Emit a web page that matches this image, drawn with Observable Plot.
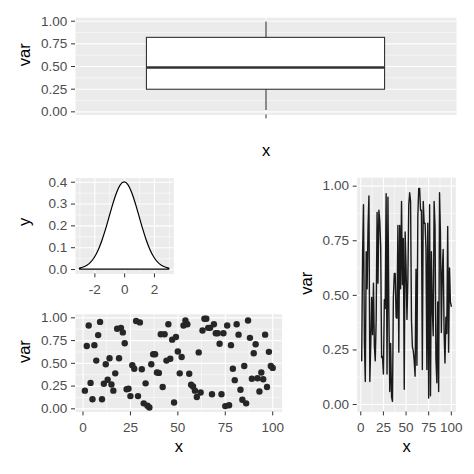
<!DOCTYPE html>
<html><head><meta charset="utf-8">
<script src="https://cdn.jsdelivr.net/npm/d3@7"></script>
<script src="https://cdn.jsdelivr.net/npm/@observablehq/plot@0.6"></script>
<style>
body{margin:0;background:#fff;}
#root{position:relative;width:474px;height:474px;background:#fff;overflow:hidden;}
#root svg{position:absolute;}
</style></head><body><div id="root"></div>
<script>
// ---------- data ----------
const xIndex = [1,2,3,4,5,6,7,8,9,10,11,12,13,14,15,16,17,18,19,20,21,22,23,24,25,26,27,28,29,30,31,32,33,34,35,36,37,38,39,40,41,42,43,44,45,46,47,48,49,50,51,52,53,54,55,56,57,58,59,60,61,62,63,64,65,66,67,68,69,70,71,72,73,74,75,76,77,78,79,80,81,82,83,84,85,86,87,88,89,90,91,92,93,94,95,96,97,98,99,100];
const varValues = [0.20,0.69,0.915,0.285,0.105,0.70,0.53,0.81,0.955,0.105,
  0.275,0.49,0.32,0.556,0.267,0.20,0.39,0.88,0.556,0.89,
  0.84,0.72,0.215,0.22,0.14,0.48,0.44,0.965,0.14,0.95,
  0.435,0.06,0.28,0.035,0.015,0.49,0.60,0.60,0.40,0.395,
  0.82,0.24,0.82,0.53,0.93,0.55,0.76,0.07,0.79,0.63,
  0.39,0.57,0.915,0.97,0.93,0.385,0.265,0.245,0.20,0.13,
  0.62,0.18,0.86,0.99,0.99,0.89,0.89,0.16,0.93,0.83,
  0.83,0.715,0.16,0.83,0.03,0.915,0.04,0.70,0.44,0.315,
  0.93,0.815,0.21,0.10,0.47,0.06,0.97,0.78,0.33,0.61,
  0.71,0.336,0.19,0.40,0.325,0.815,0.24,0.626,0.47,0.45];
const densX = [-3,-2.75,-2.5,-2.25,-2,-1.75,-1.5,-1.25,-1,-0.75,-0.5,-0.25,0,0.25,0.5,0.75,1,1.25,1.5,1.75,2,2.25,2.5,2.75,3];
const densY = [0.0044,0.0091,0.0175,0.0317,0.054,0.0863,0.1295,0.1826,0.242,0.3011,0.3521,0.3867,0.3989,0.3867,0.3521,0.3011,0.242,0.1826,0.1295,0.0863,0.054,0.0317,0.0175,0.0091,0.0044];
const varTicks = [0, 0.25, 0.5, 0.75, 1];
const varMinor = [0.125, 0.375, 0.625, 0.875];
const xTicks = [0, 25, 50, 75, 100];
const xMinor = [12.5, 37.5, 62.5, 87.5];
const densXTicks = [-2, 0, 2];
const densXMinor = [-3, -1, 1, 3];
const densYTicks = [0, 0.1, 0.2, 0.3, 0.4];
const densYMinor = [0.05, 0.15, 0.25, 0.35];
const boxCategory = [1];

// ---------- style ----------
const FONT = '"Liberation Sans", Arial, Helvetica, sans-serif';
const AXIS_TEXT = "#4D4D4D", TICK = "#333333", PANEL = "#EBEBEB";
const AX_FS = 13.5, TITLE_FS = 16.5;
const root = document.getElementById("root");

const rows = xIndex.map((x, i) => ({x, v: varValues[i]}));
const dens = densX.map((x, i) => ({x, y: densY[i]}));
const expand = (a, b, f = 0.05) => [a - (b - a) * f, b + (b - a) * f];
const yDom = expand(d3.min(varValues), d3.max(varValues));
const xDom = expand(d3.min(xIndex), d3.max(xIndex));

function place(svg, left, top) { svg.style.left = left + "px"; svg.style.top = top + "px"; root.appendChild(svg); }
const baseStyle = {fontFamily: FONT, background: "transparent", overflow: "visible"};
const grid = (minorX, majorX, minorY, majorY) => [
  Plot.frame({fill: PANEL}),
  minorY ? Plot.ruleY(minorY, {stroke: "white", strokeWidth: 0.55}) : null,
  minorX ? Plot.ruleX(minorX, {stroke: "white", strokeWidth: 0.55}) : null,
  Plot.ruleY(majorY, {stroke: "white", strokeWidth: 1.1}),
  Plot.ruleX(majorX, {stroke: "white", strokeWidth: 1.1})
];
const yAxis = (ticks, fmt) => Plot.axisY(ticks, {anchor: "left", tickSize: 4, tickPadding: 4.3, stroke: TICK, fill: AXIS_TEXT, fontSize: AX_FS, tickFormat: fmt, label: null});
const xAxis = (ticks, fmt) => Plot.axisX(ticks, {anchor: "bottom", tickSize: 4, tickPadding: 6.3, stroke: TICK, fill: AXIS_TEXT, fontSize: AX_FS, tickFormat: fmt, label: null});
const yTitle = (t, dx) => Plot.text([t], {text: d => d, frameAnchor: "left", lineAnchor: "middle", rotate: -90, dx, fontSize: TITLE_FS, fill: "black"});
const xTitle = (t, dy) => Plot.text([t], {text: d => d, frameAnchor: "bottom", lineAnchor: "middle", dy, fontSize: TITLE_FS, fill: "black"});
const f2 = d3.format(".2f"), f1 = d3.format(".1f");

// ---------- box plot ----------
const sorted = varValues.slice().sort(d3.ascending);
const q1 = d3.quantileSorted(sorted, 0.25), med = d3.quantileSorted(sorted, 0.5), q3 = d3.quantileSorted(sorted, 0.75);
const iqr = q3 - q1;
const lowW = d3.min(sorted.filter(v => v >= q1 - 1.5 * iqr));
const highW = d3.max(sorted.filter(v => v <= q3 + 1.5 * iqr));
const boxStats = [{cat: 1, q1, med, q3, lowW, highW}];
const halfW = 0.375;

place(Plot.plot({
  width: 474, height: 165,
  marginLeft: 75, marginRight: 18, marginTop: 17.2, marginBottom: 50.6,
  style: baseStyle,
  x: {domain: [0.4, 1.6]},
  y: {domain: yDom},
  marks: [
    ...grid(null, boxCategory, varMinor, varTicks),
    Plot.ruleX(boxStats, {x: "cat", y1: "lowW", y2: "highW", stroke: TICK, strokeWidth: 1.1}),
    Plot.rect(boxStats, {x1: d => d.cat - halfW, x2: d => d.cat + halfW, y1: "q1", y2: "q3", fill: "white", stroke: TICK, strokeWidth: 1.1}),
    Plot.ruleY(boxStats, {y: "med", x1: d => d.cat - halfW, x2: d => d.cat + halfW, stroke: TICK, strokeWidth: 2.4}),
    yAxis(varTicks, f2),
    xAxis(boxCategory, () => ""),
    yTitle("var", -50.5),
    xTitle("x", 35.4)
  ]
}), 0, 0);

// ---------- density ----------
place(Plot.plot({
  width: 200, height: 135,
  marginLeft: 75, marginRight: 26.7, marginTop: 12.6, marginBottom: 26.6,
  style: baseStyle,
  x: {domain: [-3.3, 3.3]},
  y: {domain: expand(0, d3.max(densY))},
  marks: [
    ...grid(densXMinor, densXTicks, densYMinor, densYTicks),
    Plot.areaY(dens, {x: "x", y: "y", fill: "white", stroke: "black", strokeWidth: 1.2, curve: "natural"}),
    yAxis(densYTicks, f1),
    xAxis(densXTicks, d => String(d)),
    yTitle("y", -50.5)
  ]
}), 0, 165);

// ---------- scatter ----------
place(Plot.plot({
  width: 290, height: 174,
  marginLeft: 75, marginRight: 8.4, marginTop: 13.8, marginBottom: 62.6,
  style: baseStyle,
  x: {domain: xDom},
  y: {domain: yDom},
  marks: [
    ...grid(xMinor, xTicks, varMinor, varTicks),
    Plot.dot(rows, {x: "x", y: "v", r: 3.2, fill: "#262626", stroke: "none"}),
    yAxis(varTicks, f2),
    xAxis(xTicks, d => String(d)),
    yTitle("var", -50.5),
    xTitle("x", 34.6)
  ]
}), 0, 300);

// ---------- line ----------
place(Plot.plot({
  width: 184, height: 309,
  marginLeft: 66.7, marginRight: 18.7, marginTop: 12.2, marginBottom: 62.6,
  style: baseStyle,
  x: {domain: xDom},
  y: {domain: yDom},
  marks: [
    ...grid(xMinor, xTicks, varMinor, varTicks),
    Plot.line(rows, {x: "x", y: "v", stroke: "#1a1a1a", strokeWidth: 1.4}),
    yAxis(varTicks, f2),
    xAxis(xTicks, d => String(d)),
    yTitle("var", -50.4),
    xTitle("x", 34.6)
  ]
}), 290, 165);
</script></body></html>
